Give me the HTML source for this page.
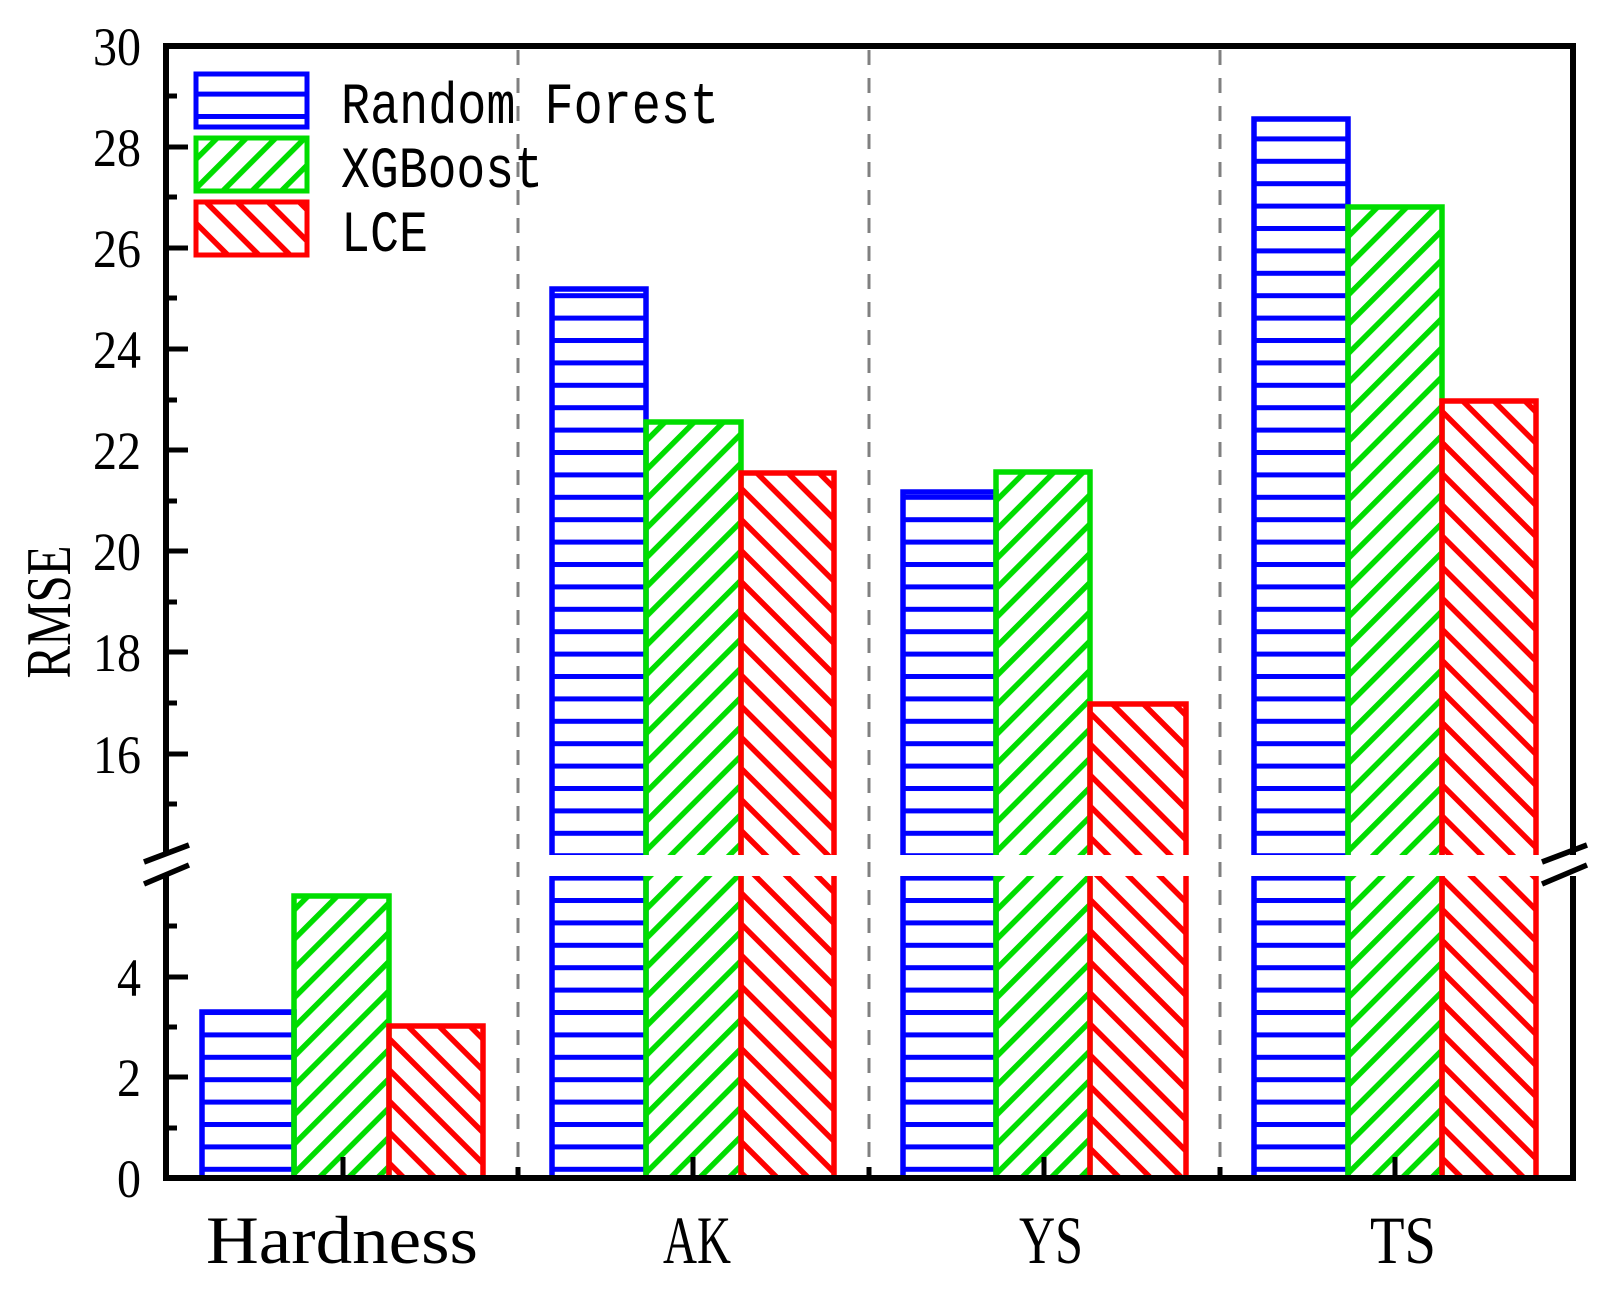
<!DOCTYPE html>
<html><head><meta charset="utf-8"><style>html,body{margin:0;padding:0;background:#fff}svg{display:block}</style></head>
<body>
<svg width="1618" height="1300" viewBox="0 0 1618 1300" xmlns="http://www.w3.org/2000/svg">
<defs>
<pattern id="pb" patternUnits="userSpaceOnUse" width="20" height="22.4" x="0" y="2"><rect x="0" y="0" width="20" height="5" fill="#0000ff"/></pattern>
<pattern id="pg" patternUnits="userSpaceOnUse" width="20.7" height="20.7" patternTransform="rotate(45)"><rect x="0" y="0" width="5.5" height="20.7" fill="#00dd00"/></pattern>
<pattern id="pr" patternUnits="userSpaceOnUse" width="22" height="22" patternTransform="rotate(-45)"><rect x="0" y="0" width="5.5" height="22" fill="#ff0000"/></pattern>
<clipPath id="cu"><rect x="166" y="46" width="1407" height="809"/></clipPath>
<clipPath id="cl"><rect x="166" y="876" width="1407" height="302"/></clipPath>
</defs>
<g stroke="#808080" stroke-width="3" stroke-dasharray="15,13">
<line x1="518" y1="50" x2="518" y2="1176"/>
<line x1="869" y1="50" x2="869" y2="1176"/>
<line x1="1220" y1="50" x2="1220" y2="1176"/>
</g>
<g clip-path="url(#cu)">
<g stroke-width="5.5">
<rect x="552" y="289" width="94" height="600" fill="url(#pb)" stroke="#0000ff"/>
<rect x="646" y="422" width="95" height="500" fill="url(#pg)" stroke="#00dd00"/>
<rect x="741" y="473" width="93" height="500" fill="url(#pr)" stroke="#ff0000"/>
<rect x="903" y="492" width="93" height="500" fill="url(#pb)" stroke="#0000ff"/>
<rect x="996" y="472" width="94" height="500" fill="url(#pg)" stroke="#00dd00"/>
<rect x="1090" y="704" width="96" height="400" fill="url(#pr)" stroke="#ff0000"/>
<rect x="1254" y="119" width="94" height="900" fill="url(#pb)" stroke="#0000ff"/>
<rect x="1348" y="207" width="94" height="800" fill="url(#pg)" stroke="#00dd00"/>
<rect x="1442" y="401" width="94" height="600" fill="url(#pr)" stroke="#ff0000"/>
</g>
</g>
<g clip-path="url(#cl)">
<g stroke-width="5.5">
<rect x="202" y="1012" width="92" height="300" fill="url(#pb)" stroke="#0000ff"/>
<rect x="294" y="896" width="95" height="300" fill="url(#pg)" stroke="#00dd00"/>
<rect x="389" y="1026" width="94" height="300" fill="url(#pr)" stroke="#ff0000"/>
<rect x="552" y="700" width="94" height="600" fill="url(#pb)" stroke="#0000ff"/>
<rect x="646" y="700" width="95" height="600" fill="url(#pg)" stroke="#00dd00"/>
<rect x="741" y="700" width="93" height="600" fill="url(#pr)" stroke="#ff0000"/>
<rect x="903" y="700" width="93" height="600" fill="url(#pb)" stroke="#0000ff"/>
<rect x="996" y="700" width="94" height="600" fill="url(#pg)" stroke="#00dd00"/>
<rect x="1090" y="700" width="96" height="600" fill="url(#pr)" stroke="#ff0000"/>
<rect x="1254" y="700" width="94" height="600" fill="url(#pb)" stroke="#0000ff"/>
<rect x="1348" y="700" width="94" height="600" fill="url(#pg)" stroke="#00dd00"/>
<rect x="1442" y="700" width="94" height="600" fill="url(#pr)" stroke="#ff0000"/>
</g>
</g>
<g stroke="#000" stroke-width="6" fill="none">
<polyline points="166,855 166,46 1573,46 1573,855"/>
<polyline points="166,876 166,1178 1573,1178 1573,876"/>
</g>
<g stroke="#000" stroke-width="5.5">
<line x1="144" y1="862" x2="189" y2="845"/>
<line x1="144" y1="884" x2="189" y2="865"/>
<line x1="1542" y1="862" x2="1587" y2="845"/>
<line x1="1542" y1="884" x2="1587" y2="865"/>
</g>
<g stroke="#000" stroke-width="5">
<line x1="166" x2="188" y1="147" y2="147"/><line x1="166" x2="188" y1="248" y2="248"/><line x1="166" x2="188" y1="349" y2="349"/><line x1="166" x2="188" y1="450" y2="450"/><line x1="166" x2="188" y1="551" y2="551"/><line x1="166" x2="188" y1="652" y2="652"/><line x1="166" x2="188" y1="754" y2="754"/>
<line x1="166" x2="177" y1="96" y2="96"/><line x1="166" x2="177" y1="197" y2="197"/><line x1="166" x2="177" y1="298" y2="298"/><line x1="166" x2="177" y1="400" y2="400"/><line x1="166" x2="177" y1="501" y2="501"/><line x1="166" x2="177" y1="602" y2="602"/><line x1="166" x2="177" y1="703" y2="703"/><line x1="166" x2="177" y1="804" y2="804"/>
<line x1="166" x2="188" y1="977" y2="977"/><line x1="166" x2="188" y1="1077" y2="1077"/>
<line x1="166" x2="177" y1="926" y2="926"/><line x1="166" x2="177" y1="1027" y2="1027"/><line x1="166" x2="177" y1="1128" y2="1128"/>
<line x1="343" x2="343" y1="1178" y2="1157"/><line x1="693" x2="693" y1="1178" y2="1157"/><line x1="1044" x2="1044" y1="1178" y2="1157"/><line x1="1395" x2="1395" y1="1178" y2="1157"/>
<line x1="518" x2="518" y1="1178" y2="1167"/><line x1="869" x2="869" y1="1178" y2="1167"/><line x1="1220" x2="1220" y1="1178" y2="1167"/>
</g>
<g font-family="Liberation Serif, serif" font-size="54" fill="#000" text-anchor="end">
<text x="141" y="65" textLength="48" lengthAdjust="spacingAndGlyphs">30</text>
<text x="141" y="166" textLength="48" lengthAdjust="spacingAndGlyphs">28</text>
<text x="141" y="267" textLength="48" lengthAdjust="spacingAndGlyphs">26</text>
<text x="141" y="368" textLength="48" lengthAdjust="spacingAndGlyphs">24</text>
<text x="141" y="469" textLength="48" lengthAdjust="spacingAndGlyphs">22</text>
<text x="141" y="570" textLength="48" lengthAdjust="spacingAndGlyphs">20</text>
<text x="141" y="671" textLength="48" lengthAdjust="spacingAndGlyphs">18</text>
<text x="141" y="773" textLength="48" lengthAdjust="spacingAndGlyphs">16</text>
<text x="141" y="996" textLength="24" lengthAdjust="spacingAndGlyphs">4</text>
<text x="141" y="1096" textLength="24" lengthAdjust="spacingAndGlyphs">2</text>
<text x="141" y="1197" textLength="24" lengthAdjust="spacingAndGlyphs">0</text>
</g>
<text transform="translate(70,612) rotate(-90)" font-family="Liberation Serif, serif" font-size="64" text-anchor="middle" textLength="133" lengthAdjust="spacingAndGlyphs">RMSE</text>
<g font-family="Liberation Serif, serif" font-size="68" text-anchor="middle">
<text x="342" y="1263" textLength="272" lengthAdjust="spacingAndGlyphs">Hardness</text>
<text x="697" y="1263" textLength="68" lengthAdjust="spacingAndGlyphs">AK</text>
<text x="1051" y="1263" textLength="64" lengthAdjust="spacingAndGlyphs">YS</text>
<text x="1403" y="1263" textLength="66" lengthAdjust="spacingAndGlyphs">TS</text>
</g>
<g stroke-width="5">
<rect x="196" y="74" width="111" height="53" fill="url(#pb)" stroke="#0000ff"/>
<rect x="196" y="138" width="111" height="53" fill="url(#pg)" stroke="#00dd00"/>
<rect x="196" y="202" width="111" height="53" fill="url(#pr)" stroke="#ff0000"/>
</g>
<g font-family="Liberation Mono, monospace" font-size="58" fill="#000">
<text x="341" y="123" textLength="378" lengthAdjust="spacingAndGlyphs">Random Forest</text>
<text x="341" y="187" textLength="202" lengthAdjust="spacingAndGlyphs">XGBoost</text>
<text x="341" y="251" textLength="87" lengthAdjust="spacingAndGlyphs">LCE</text>
</g>
</svg>
</body></html>
